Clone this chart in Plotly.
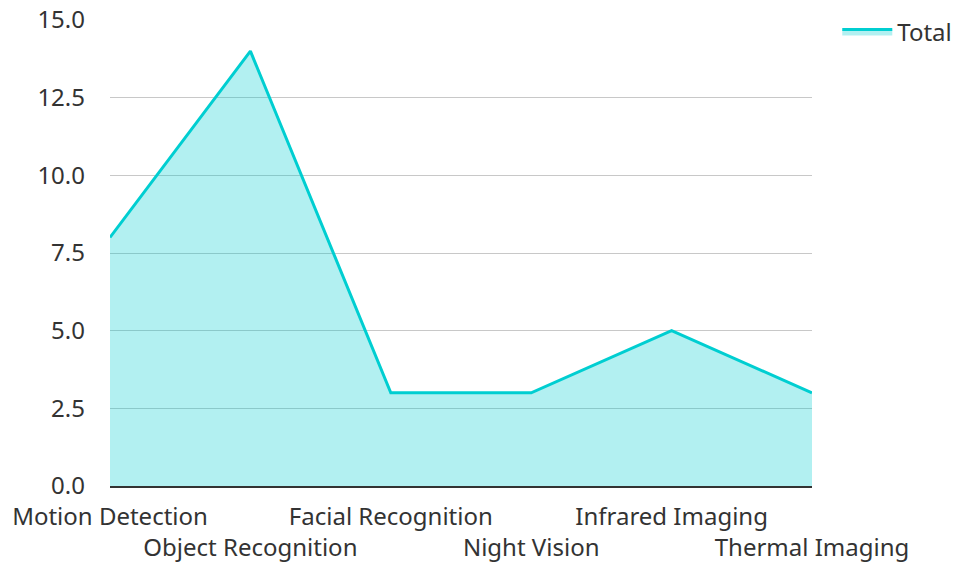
import plotly.graph_objects as go

categories = ["Motion Detection", "Object Recognition", "Facial Recognition",
              "Night Vision", "Infrared Imaging", "Thermal Imaging"]
totals = [8, 14, 3, 3, 5, 3]
y_ticks = [0, 2.5, 5, 7.5, 10, 12.5, 15]
y_tick_labels = ["0.0", "2.5", "5.0", "7.5", "10.0", "12.5", "15.0"]

tick_text = [c if i % 2 == 0 else "<br>" + c for i, c in enumerate(categories)]

fig = go.Figure()
fig.add_trace(go.Scatter(
    x=categories, y=totals, name="Total", mode="lines",
    line=dict(color="#00CED1", width=3),
    fill="tozeroy", fillcolor="rgba(0,206,209,0.3)",
))

fig.update_layout(
    width=953, height=562,
    margin=dict(l=110, r=141, t=20, b=76, autoexpand=False),
    paper_bgcolor="white", plot_bgcolor="white",
    font=dict(family="Noto Sans", size=24, color="#333333"),
    showlegend=True,
    legend=dict(x=1.036, y=1.023, xanchor="left", yanchor="top", itemwidth=50,
                font=dict(size=24, color="#333333"), bgcolor="rgba(0,0,0,0)"),
    xaxis=dict(
        type="category", range=[0, len(categories) - 1], automargin=False,
        tickmode="array", tickvals=categories, ticktext=tick_text,
        showgrid=False, showline=True, linecolor="#333333", linewidth=2,
        ticks="", ticklabelstandoff=8, tickangle=0,
    ),
    yaxis=dict(
        range=[0, 15], tickmode="array", tickvals=y_ticks, ticktext=y_tick_labels,
        showgrid=True, gridcolor="#c8c8c8", gridwidth=1, automargin=False,
        zeroline=False, showline=False, ticks="", ticklabelstandoff=24,
    ),
)

fig.write_html("out.html", config={"displayModeBar": False},
               post_script="document.body.style.margin='0';document.body.style.overflow='hidden';")
